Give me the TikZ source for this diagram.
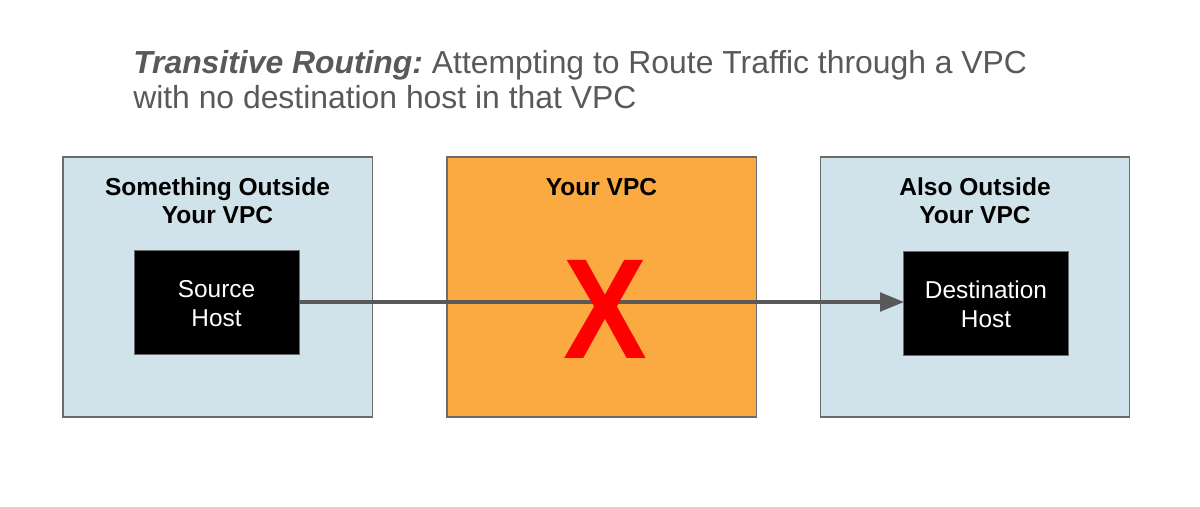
\documentclass[tikz,border=0pt]{standalone}
\usepackage{fontspec}
\setmainfont{Liberation Sans}
\usetikzlibrary{arrows.meta}
\definecolor{boxblue}{HTML}{D0E3EB}
\definecolor{vpcorange}{HTML}{FBAA41}
\definecolor{edgegray}{HTML}{6B6B6B}
\definecolor{textgray}{HTML}{595959}
\definecolor{xred}{HTML}{FF0000}
\tikzset{
  region/.style={draw=edgegray, line width=1pt, minimum width=232pt, minimum height=195pt, inner sep=0pt},
  hostbox/.style={draw=edgegray, line width=0.6pt, fill=black, minimum width=123.75pt, minimum height=78pt, inner sep=0pt},
  regtitle/.style={font=\bfseries\fontsize{18.4}{21}\selectfont, anchor=base, inner sep=0pt},
  hosttext/.style={font=\fontsize{18.3}{22.5}\selectfont, text=white, anchor=base, inner sep=0pt},
  titletext/.style={anchor=base west, inner sep=0pt, text=textgray, font=\fontsize{23.9}{28}\selectfont},
  flow/.style={draw=textgray, line width=2.5pt, -{Triangle[length=18pt, width=14pt]}},
}
\begin{document}
\begin{tikzpicture}[x=0.75pt, y=-0.75pt]
\useasboundingbox[fill=white] (0,0) rectangle (1200,507);
% title
\node[titletext] (t1) at (133,73)
  {\textbf{\textit{Transitive Routing:}}\ Attempting to Route Traffic through a VPC};
\node[titletext] (t2) at (133,108)
  {with no destination host in that VPC};
% regions
\node[region, fill=boxblue] (left) at (217.5,287) {};
\node[region, fill=vpcorange] (mid) at (601.5,287) {};
\node[region, fill=boxblue] (right) at (975,287) {};
\node[regtitle] (l1) at (217.5,195) {Something Outside};
\node[regtitle] (l2) at (217.5,223) {Your VPC};
\node[regtitle] (m1) at (601.5,195) {Your VPC};
\node[regtitle] (r1) at (975,195) {Also Outside};
\node[regtitle] (r2) at (975,223) {Your VPC};
% hosts
\node[hostbox] (src) at (216.5,302) {};
\node[hostbox] (dst) at (986,303) {};
\node[hosttext] (s1) at (216.5,297) {Source};
\node[hosttext] (s2) at (216.5,326) {Host};
\node[hosttext] (d1) at (986,298) {Destination};
\node[hosttext] (d2) at (986,327) {Host};
% arrow
\coordinate (a0) at (299,302);
\coordinate (a1) at (904,302);
\draw[flow] (a0) -- (a1);
% X
\node[inner sep=0pt, text=xred, anchor=base, font=\bfseries\fontsize{107}{107}\selectfont, xscale=0.88] (x) at (605,358) {X};
\end{tikzpicture}
\end{document}
